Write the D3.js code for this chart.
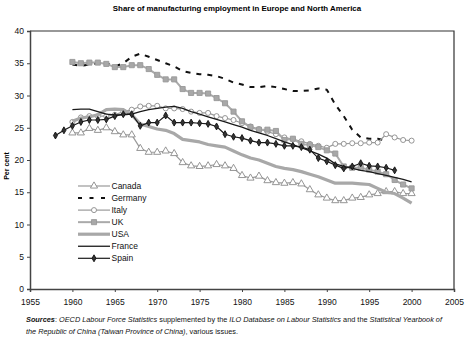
<!DOCTYPE html>
<html>
<head>
<meta charset="utf-8">
<title>Share of manufacturing employment</title>
<style type="text/css">
	body { margin: 0; background: #fff; }
	svg { display: block; font-family: "Liberation Sans", Arial, sans-serif; }
	.tick text { font-size: 8.5px; fill: #111; }
	.legend text { font-size: 8.5px; fill: #111; }
</style>
<script src="https://cdn.jsdelivr.net/npm/d3@7/dist/d3.min.js"></script>
</head>
<body>
<div id="chart"></div>
<script type="text/javascript">
// yearly values, per cent of total employment
var yearsCanada = d3.range(1960, 2001);
var canada = [24.2, 24.2, 24.9, 24.6, 25.0, 24.4, 23.9, 23.9, 21.8, 21.2,
	21.2, 21.4, 21.0, 19.6, 19.1, 19.0, 19.1, 19.3, 19.1, 18.7,
	17.6, 17.2, 17.5, 16.8, 16.5, 16.4, 16.5, 16.3, 15.4, 14.6,
	14.1, 13.7, 13.7, 14.1, 14.2, 14.6, 14.8, 15.1, 15.1, 14.8, 14.8];

var yearsGermany = d3.range(1960, 1998);
var germany = [34.8, 34.6, 34.8, 35.0, 35.0, 34.5, 35.0, 36.0, 36.5, 36.0,
	35.5, 35.0, 34.5, 33.8, 33.5, 33.3, 33.2, 33.0, 32.6, 32.0,
	31.7, 31.3, 31.3, 31.5, 31.3, 31.0, 30.7, 30.7, 30.8, 31.1,
	30.9, 28.6, 26.8, 24.7, 23.5, 23.3, 23.3, 23.0];

var yearsItaly = d3.range(1960, 2001);
var italy = [25.9, 26.6, 26.8, 26.8, 26.8, 27.0, 27.5, 27.8, 28.3, 28.4,
	28.4, 28.0, 28.0, 27.9, 27.5, 27.3, 27.3, 26.8, 26.5, 26.2,
	25.7, 25.2, 24.8, 24.4, 24.0, 23.5, 23.2, 22.9, 22.5, 22.2,
	21.9, 22.5, 22.5, 22.6, 22.6, 22.7, 22.7, 24.0, 23.5, 23.1, 23.0];

var yearsUK = d3.range(1960, 2001);
var uk = [35.2, 35.0, 35.1, 35.1, 34.9, 34.4, 34.4, 34.7, 34.7, 34.1,
	33.2, 32.5, 32.5, 31.0, 30.4, 30.4, 30.3, 29.6, 28.8, 27.5,
	26.0, 25.1, 24.7, 24.7, 24.5, 23.1, 23.3, 22.5, 22.3, 22.0,
	21.5, 21.0, 19.0, 18.8, 18.8, 18.5, 18.2, 17.8, 16.9, 16.2, 15.6];

var yearsUSA = d3.range(1960, 2001);
var usa = [26.0, 26.5, 26.7, 27.0, 27.8, 27.9, 27.8, 27.0, 25.6, 25.2,
	24.8, 24.6, 24.1, 23.2, 23.0, 22.8, 22.4, 22.2, 22.0, 21.4,
	20.8, 20.3, 20.0, 19.5, 19.0, 18.7, 18.5, 18.2, 17.8, 17.4,
	16.9, 16.4, 16.4, 16.4, 16.3, 16.2, 15.6, 15.0, 14.8, 14.1, 13.3];

var yearsFrance = d3.range(1960, 2001);
var france = [27.8, 27.9, 27.9, 27.5, 27.1, 27.0, 27.0, 27.1, 27.5, 27.8,
	28.0, 28.2, 28.3, 28.0, 27.5, 27.1, 26.7, 26.3, 25.9, 25.5,
	25.1, 24.6, 24.2, 23.8, 23.3, 22.8, 22.4, 21.9, 21.4, 20.9,
	20.3, 19.4, 19.0, 18.7, 18.4, 18.2, 17.9, 17.6, 17.3, 17.0, 16.6];

var yearsSpain = d3.range(1958, 1999);
var spain = [23.8, 24.6, 25.3, 25.9, 26.2, 26.2, 26.3, 26.8, 27.1, 27.1,
	25.3, 25.8, 25.8, 26.9, 25.8, 25.8, 25.8, 25.7, 25.6, 25.2,
	24.0, 23.6, 23.4, 23.0, 22.7, 22.7, 22.5, 22.2, 22.2, 22.0,
	21.6, 20.3, 19.8, 19.2, 18.7, 19.0, 19.5, 19.1, 19.0, 18.8, 18.4];

var xTicks = d3.range(1955, 2006, 5);
var yTicks = d3.range(0, 41, 5);

var series = [
	{name: 'Canada', years: yearsCanada, values: canada, color: '#9a9a9a', width: 1.2, marker: 'triangle', fill: '#fff', mstroke: '#8a8a8a'},
	{name: 'Germany', years: yearsGermany, values: germany, color: '#111', width: 2, dash: '5,6'},
	{name: 'Italy', years: yearsItaly, values: italy, color: '#9a9a9a', width: 1.2, marker: 'circle', fill: '#fff', mstroke: '#8a8a8a'},
	{name: 'UK', years: yearsUK, values: uk, color: '#aaa', width: 2, marker: 'square', fill: '#a8a8a8', mstroke: '#999'},
	{name: 'USA', years: yearsUSA, values: usa, color: '#a8a8a8', width: 3.2},
	{name: 'France', years: yearsFrance, values: france, color: '#1a1a1a', width: 1.3},
	{name: 'Spain', years: yearsSpain, values: spain, color: '#1a1a1a', width: 1.2, marker: 'diamond', fill: '#333', mstroke: '#111'}
];

var width = 474, height = 338;
var plotLeft = 30, plotRight = 454, plotTop = 31, plotBottom = 289;

var svg = d3.select('#chart').append('svg')
		.attr('width', width)
		.attr('height', height);

var x = d3.scaleLinear().domain([1955, 2005]).range([plotLeft, plotRight]);
var y = d3.scaleLinear().domain([0, 40]).range([plotBottom, plotTop]);

svg.append('text')
		.attr('x', 237).attr('y', 11)
		.attr('text-anchor', 'middle')
		.style('font-size', '7.9px').style('font-weight', 'bold')
		.text('Share of manufacturing employment in Europe and North America');

// frame: top and right edges
svg.append('path')
		.attr('d', 'M' + plotLeft + ',' + plotTop + 'H' + plotRight + 'V' + plotBottom)
		.attr('fill', 'none').attr('stroke', '#333').attr('stroke-width', 1.2);

var xAxis = svg.append('g')
		.attr('transform', 'translate(0,' + plotBottom + ')')
		.call(d3.axisBottom(x).tickValues(xTicks).tickSize(3).tickPadding(7).tickFormat(d3.format('d')));
var yAxis = svg.append('g')
		.attr('transform', 'translate(' + plotLeft + ',0)')
		.call(d3.axisLeft(y).tickValues(yTicks).tickSize(3).tickPadding(3));
[xAxis, yAxis].forEach(function(g){
	g.select('.domain').attr('stroke', '#444').attr('stroke-width', 1.5);
	g.selectAll('.tick line').attr('stroke', '#444');
});

svg.append('text')
		.attr('transform', 'translate(9,166) rotate(-90)')
		.attr('text-anchor', 'middle')
		.style('font-size', '7px').style('font-weight', 'bold')
		.text('Per cent');

var markerPath = function(kind){
	if (kind == 'triangle') return d3.symbol().type(d3.symbolTriangle).size(22)();
	if (kind == 'circle') return d3.symbol().type(d3.symbolCircle).size(20)();
	if (kind == 'square') return d3.symbol().type(d3.symbolSquare).size(26)();
	return d3.symbol().type(d3.symbolDiamond).size(14)();
};

var line = d3.line()
		.x(function(d){ return x(d[0]); })
		.y(function(d){ return y(d[1]); });

series.forEach(function(s){
	var pts = d3.zip(s.years, s.values);
	var g = svg.append('g');
	g.append('path')
			.datum(pts)
			.attr('d', line)
			.attr('fill', 'none')
			.attr('stroke', s.color)
			.attr('stroke-width', s.width)
			.attr('stroke-dasharray', s.dash || null)
			.attr('stroke-linejoin', 'round');
	if (s.marker) {
		g.selectAll('.m')
				.data(pts)
			.enter().append('path')
				.attr('transform', function(d){ return 'translate(' + x(d[0]) + ',' + y(d[1]) + ')'; })
				.attr('d', markerPath(s.marker))
				.attr('fill', s.fill)
				.attr('stroke', s.mstroke)
				.attr('stroke-width', 0.9);
	}
});

// legend
var legend = svg.append('g').attr('class', 'legend');
series.forEach(function(s, i){
	var ly = 186 + i * 12.05;
	legend.append('line')
			.attr('x1', 78).attr('x2', 110).attr('y1', ly).attr('y2', ly)
			.attr('stroke', s.color).attr('stroke-width', s.width)
			.attr('stroke-dasharray', s.dash ? '4,7.5' : null);
	if (s.marker) {
		legend.append('path')
				.attr('transform', 'translate(94,' + ly + ')')
				.attr('d', markerPath(s.marker))
				.attr('fill', s.fill).attr('stroke', s.mstroke).attr('stroke-width', 0.9);
	}
	legend.append('text')
			.attr('x', 111.5).attr('y', ly + 3)
			.text(s.name);
});

// sources note
var note = svg.append('g').style('font-size', '7.4px').attr('fill', '#111');
var l1 = note.append('text').attr('x', 26).attr('y', 322)
		.attr('textLength', 416).attr('lengthAdjust', 'spacingAndGlyphs');
l1.append('tspan').style('font-weight', 'bold').style('font-style', 'italic').text('Sources');
l1.append('tspan').text(':  ');
l1.append('tspan').style('font-style', 'italic').text('OECD Labour Force Statistics');
l1.append('tspan').text('  supplemented by the ');
l1.append('tspan').style('font-style', 'italic').text('ILO Database on Labour Statistics');
l1.append('tspan').text('  and the ');
l1.append('tspan').style('font-style', 'italic').text('Statistical Yearbook of');
var l2 = note.append('text').attr('x', 26).attr('y', 334)
		.attr('textLength', 212).attr('lengthAdjust', 'spacingAndGlyphs');
l2.append('tspan').style('font-style', 'italic').text('the Republic of China (Taiwan Province of China)');
l2.append('tspan').text(',  various issues.');
</script>
</body>
</html>
